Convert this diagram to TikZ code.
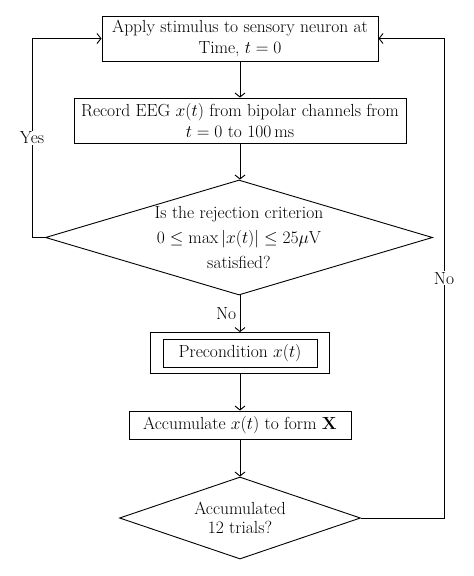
\RequirePackage{fix-cm}
\documentclass[tikz,border=0pt]{standalone}
\usepackage{amsmath,amssymb}
\usetikzlibrary{arrows.meta,shapes.geometric,fit}

\begin{document}
\begin{tikzpicture}[x=1pt,y=1pt,>={Straight Barb[length=4pt,width=10pt]},line width=0.9pt,
  every node/.style={font=\fontsize{17.5}{21}\selectfont},
  procbox/.style={draw,rectangle,align=center,inner sep=0pt},
  decision/.style={draw,diamond,inner sep=0pt}]
  \useasboundingbox (0,0) rectangle (474,-576);
  \node[procbox,minimum width=276,minimum height=45] (start) at (240,-38.5) {Apply stimulus to sensory neuron at\\Time, $t=0$};
  \node[procbox,minimum width=332,minimum height=45] (record) at (240,-120.5) {Record EEG $x(t)$ from bipolar channels from\\$t=0$ to $100\,$ms};
  \node[decision,minimum width=387,minimum height=115] (check) at (239,-237.5) {};
  \node[align=center,font=\fontsize{17.5}{25}\selectfont] (checktxt) at (check) {Is the rejection criterion\\$0\leq\max|x(t)|\leq 25\mu$V\\satisfied?};
  \node[procbox,minimum width=154,minimum height=28] (pre) at (240,-353) {Precondition $x(t)$};
  \node[draw,fit=(pre),inner xsep=12pt,inner ysep=6pt] (preout) {};
  \node[procbox,minimum width=222,minimum height=28] (acc) at (240,-425) {Accumulate $x(t)$ to form $\mathbf{X}$};
  \node[decision,minimum width=241,minimum height=82] (done) at (240,-518) {};
  \node[align=center,font=\fontsize{17.5}{19}\selectfont] (donetxt) at (done) {Accumulated\\12 trials?};
  \draw[->] (start.south) -- (record.north);
  \draw[->] (record.south) -- (record.south |- check.north);
  \draw[->] (check.south -| pre.north) -- node[left]{No} (preout.north);
  \draw[->] (preout.south) -- (acc.north);
  \draw[->] (acc.south) -- (done.north);
  \draw[->] (check.west) -- ++(-13,0) |- node[pos=0.25,fill=white,inner sep=1pt]{Yes} (start.west);
  \draw[->] (done.east) -- ++(83,0) |- node[pos=0.25,fill=white,inner sep=1pt]{No} (start.east);
\end{tikzpicture}
\end{document}
